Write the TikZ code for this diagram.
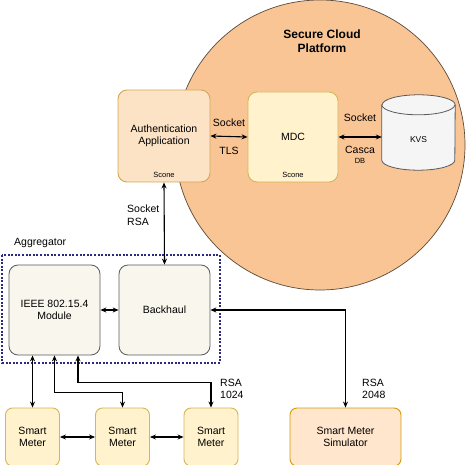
\documentclass[tikz,border=0pt]{standalone}
\usepackage{fontspec}
\setmainfont{Liberation Sans}
\usetikzlibrary{shapes.geometric, positioning, arrows.meta, calc}

\definecolor{cloudfill}{HTML}{FAC595}
\definecolor{cloudline}{HTML}{5A4A3A}
\definecolor{appfill}{HTML}{FCE3C6}
\definecolor{appline}{HTML}{D6A652}
\definecolor{mdcfill}{HTML}{FFF2CC}
\definecolor{mdcline}{HTML}{D6B656}
\definecolor{modfill}{HTML}{F9F7ED}
\definecolor{modline}{HTML}{5A5A5A}
\definecolor{simfill}{HTML}{FFE6CC}
\definecolor{simline}{HTML}{D79B00}
\definecolor{aggline}{HTML}{2A2A80}

\begin{document}
\begin{tikzpicture}[
        x=1pt, y=-1pt,
        font=\fontsize{10.5}{12.5}\selectfont,
        enclave/.style={draw=appline, fill=appfill, rounded corners=9pt, line width=0.9pt, align=center, minimum width=92pt, minimum height=92pt},
        mdcbox/.style={draw=mdcline, fill=mdcfill, rounded corners=9pt, line width=0.9pt, align=center, minimum width=90pt, minimum height=90pt},
        module/.style={draw=modline, fill=modfill, rounded corners=9pt, line width=0.8pt, align=center, minimum width=91pt, minimum height=90pt},
        meter/.style={draw=mdcline, fill=mdcfill, rounded corners=7pt, line width=0.9pt, align=center, minimum width=54pt, minimum height=58pt},
        store/.style={draw=modline, fill=black!4, line width=0.8pt},
        small/.style={font=\fontsize{7.5}{8}\selectfont},
        lbl/.style={align=left, anchor=west, inner sep=0pt},
        arrow/.style={{Stealth[length=6pt,width=5pt]}-{Stealth[length=6pt,width=5pt]}, line width=1.1pt}
    ]
    \useasboundingbox (0,0) rectangle (474,465);

    % Cloud
    \filldraw[fill=cloudfill, draw=cloudline, line width=0.7pt] (320,145) circle (145pt);
    \node[font=\bfseries\fontsize{12}{14}\selectfont, align=center] (cloud) at (322,41) {Secure Cloud\\Platform};

    % Nodes
    \node[enclave] (auth) at (164,136) {Authentication\\Application};
    \node[small, above=1pt of auth.south] (scone1) {Scone};
    \node[mdcbox] (mdc) at (293,137) {MDC};
    \node[small, above=1pt of mdc.south] (scone2) {Scone};
    \node[minimum width=73pt, minimum height=75pt, inner sep=0pt] (kvs) at (418.5,132.5) {};
    \filldraw[store] (kvs.north west) ++(0,10) -- ($(kvs.south west)+(0,-10)$)
        arc[start angle=180, end angle=360, x radius=36.5pt, y radius=10pt]
        -- ($(kvs.north east)+(0,10)$)
        arc[start angle=0, end angle=180, x radius=36.5pt, y radius=10pt] -- cycle;
    \draw[store] ($(kvs.north west)+(0,10)$)
        arc[start angle=180, end angle=360, x radius=36.5pt, y radius=10pt];
    \node[font=\fontsize{8.5}{10}\selectfont] (kvslabel) at (418.5,140) {KVS};

    % Aggregator
    \draw[aggline, line width=1.2pt, dash pattern=on 2pt off 1.6pt] (2,255) rectangle (220,363);
    \node[lbl] (agg) at (14,243) {Aggregator};
    \node[module] (ieee) at (54.5,310) {IEEE 802.15.4\\Module};
    \node[module] (back) at (164.5,310) {Backhaul};

    % Meters
    \node[meter] (sm1) at (32.5,437) {Smart\\Meter};
    \node[meter] (sm2) at (122.5,437) {Smart\\Meter};
    \node[meter] (sm3) at (211,437) {Smart\\Meter};
    \node[meter, draw=simline, fill=simfill, minimum width=111pt] (sim) at (345.5,437) {Smart Meter\\Simulator};

    % Arrows
    \draw[arrow] (auth.east) -- (mdc.west);
    \node (sock1) at (229,123) {Socket};
    \node (tls) at (229,151) {TLS};
    \draw[arrow] (mdc.east) -- (kvs.west |- mdc.east);
    \node (sock2) at (360,118) {Socket};
    \node[align=center, inner sep=0pt] (casca) at (360,155) {Casca\\[-2pt]{\fontsize{7.5}{8}\selectfont DB}};

    \draw[arrow] (auth.south) -- (back.north);
    \node[lbl] (rsa0) at (127,215) {Socket\\RSA};

    \draw[arrow] (ieee.east) -- (back.west);
    \draw[arrow] (back.east) -| (sim.north);
    \node[lbl] (rsa2) at (362,389) {RSA\\2048};

    \draw[arrow] (sm1.north |- ieee.south) -- (sm1.north);
    \draw[arrow] (ieee.south) -- ++(0,37) -| (sm2.north);
    \draw[arrow] ([xshift=23.5pt]ieee.south) -- ++(0,27) -| (sm3.north);
    \node[lbl] (rsa1) at (220,389) {RSA\\1024};

    \draw[arrow] (sm1.east) -- (sm2.west);
    \draw[arrow] (sm2.east) -- (sm3.west);

\end{tikzpicture}
\end{document}
